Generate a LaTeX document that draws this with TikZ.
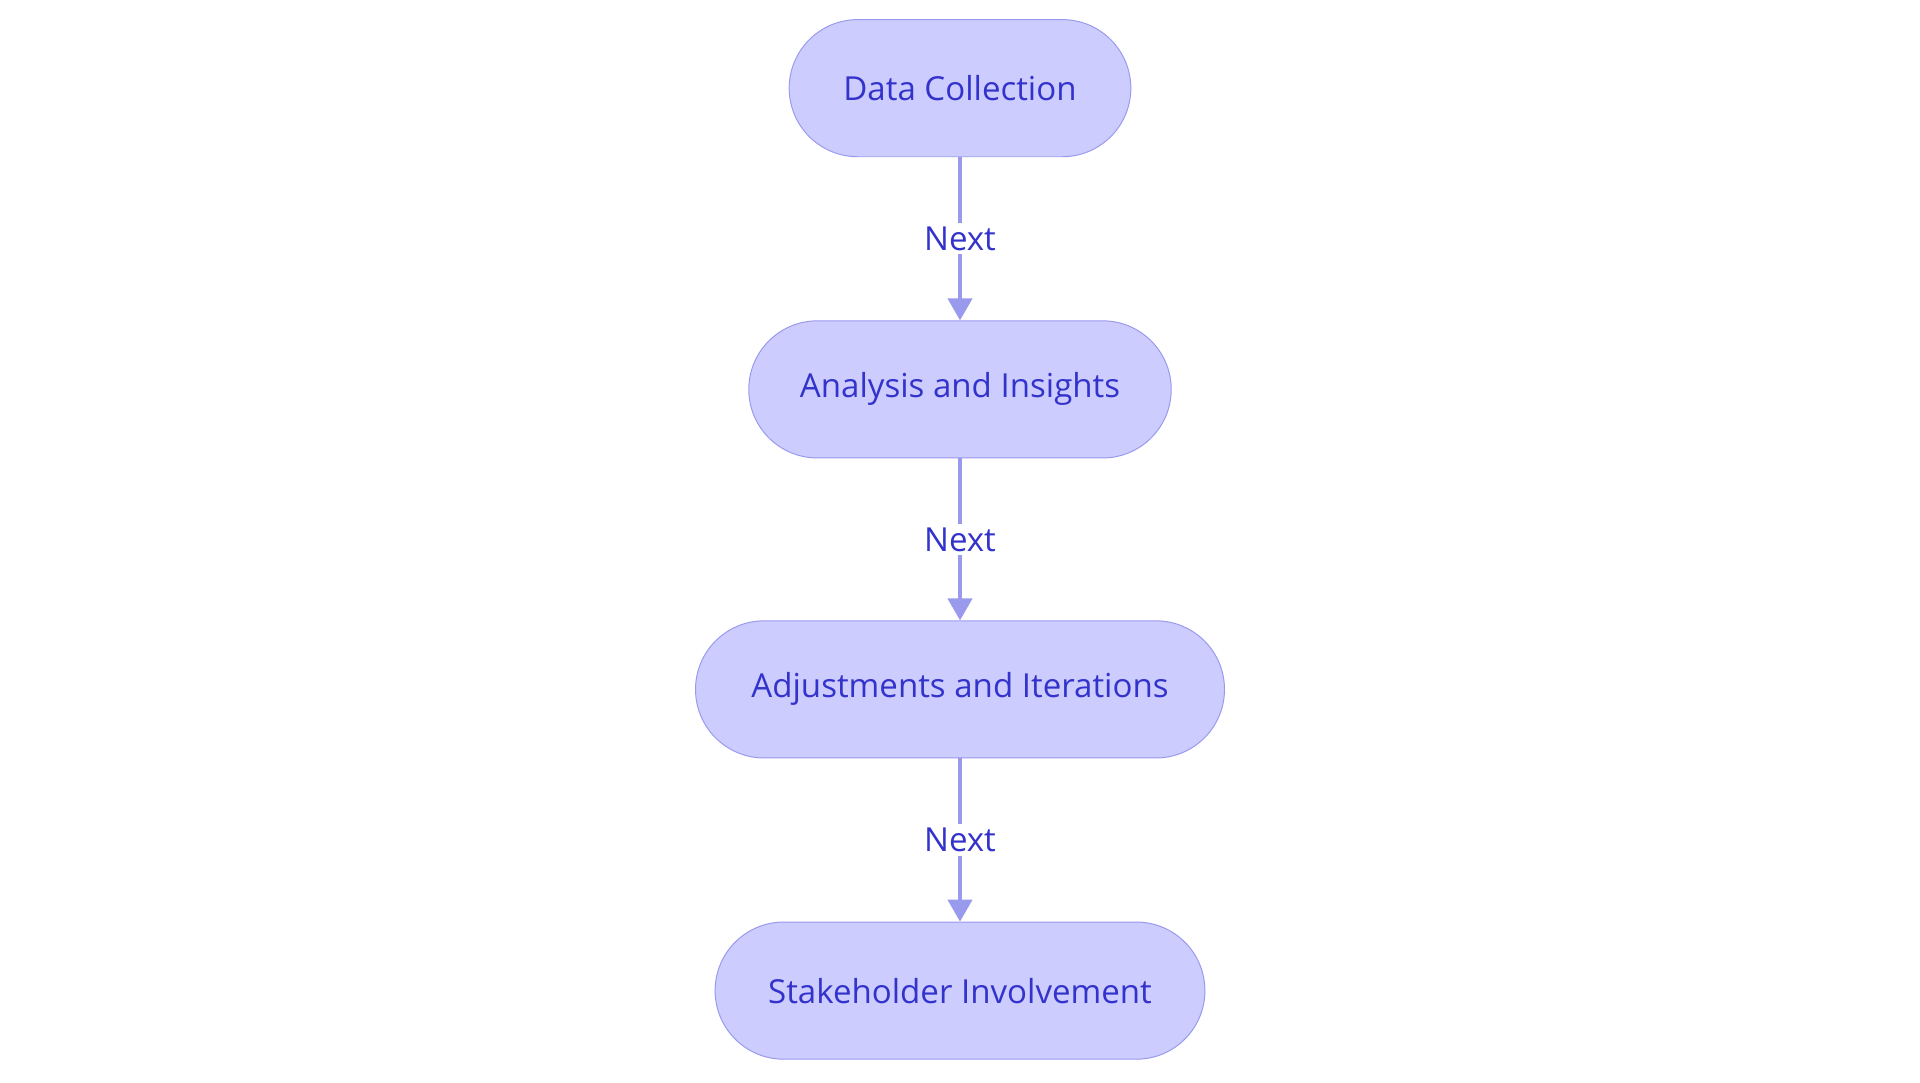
\documentclass[tikz,border=0pt]{standalone}
\usepackage{fontspec}
\setmainfont{Open Sans}
\usetikzlibrary{positioning,arrows.meta}
\definecolor{boxfill}{HTML}{CCCCFF}
\definecolor{boxline}{HTML}{9999EE}
\definecolor{boxtext}{HTML}{3333CC}
\begin{document}
\begin{tikzpicture}[x=1pt,y=1pt,
    stepnode/.style={rectangle, rounded corners=56pt, draw=boxline, fill=boxfill, thick,
      text=boxtext, minimum height=112pt, font=\fontsize{27}{32}\selectfont},
    nextarrow/.style={draw=boxline, line width=2.5pt, -{Triangle[length=18pt,width=20pt]}},
    nextlabel/.style={fill=white, text=boxtext, font=\fontsize{27}{32}\selectfont, inner sep=3pt}]
        \useasboundingbox (0,0) rectangle (1568,-884);

        \node[stepnode, minimum width=279pt] (1) at (784,-72) {Data Collection};
        \node[stepnode, minimum width=345pt] (2) at (784,-318) {Analysis and Insights};
        \node[stepnode, minimum width=432pt] (3) at (784,-563) {Adjustments and Iterations};
        \node[stepnode, minimum width=400pt] (4) at (784,-809) {Stakeholder Involvement};

        \draw[nextarrow] (1) -- node[nextlabel] {Next} (2);
        \draw[nextarrow] (2) -- node[nextlabel] {Next} (3);
        \draw[nextarrow] (3) -- node[nextlabel] {Next} (4);

        \end{tikzpicture}
\end{document}
